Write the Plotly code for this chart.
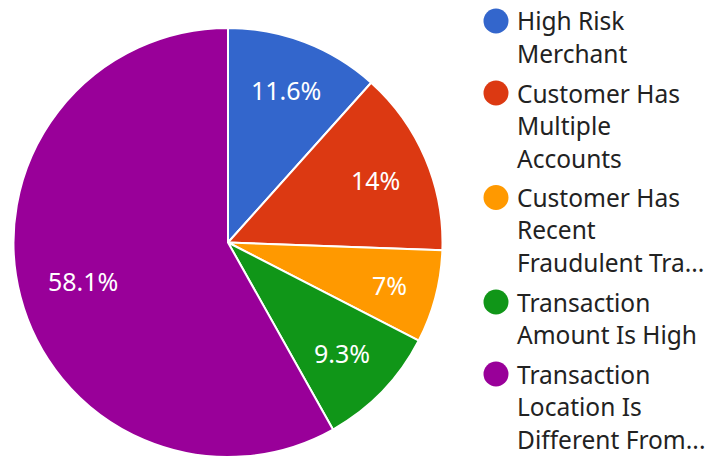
import math
import plotly.graph_objects as go

categories = [
    "High Risk Merchant",
    "Customer Has Multiple Accounts",
    "Customer Has Recent Fraudulent Transactions",
    "Transaction Amount Is High",
    "Transaction Location Is Different From Usual",
]
legend_lines = [
    ["High Risk", "Merchant"],
    ["Customer Has", "Multiple", "Accounts"],
    ["Customer Has", "Recent", "Fraudulent Tra..."],
    ["Transaction", "Amount Is High"],
    ["Transaction", "Location Is", "Different From..."],
]
values = [5, 6, 3, 4, 25]
colors = ["#3366CC", "#DC3912", "#FF9900", "#109618", "#990099"]

W, H = 707, 457
FONT = "Noto Sans"
FS_LABEL = 25
FS_LEGEND = 24.5

# pie geometry (paper pixels)
CX, TOP = 228, 28
R = (H - TOP) / 2
CY = TOP + R

fig = go.Figure()
fig.add_trace(go.Pie(
    labels=categories,
    values=values,
    sort=False,
    direction="clockwise",
    rotation=0,
    marker=dict(colors=colors, line=dict(color="white", width=2)),
    textinfo="none",
    domain=dict(x=[(CX - R) / W, (CX + R) / W], y=[0, 1 - TOP / H]),
    showlegend=False,
    hoverinfo="label+percent",
))

# slice percentage labels (Google-Charts-like placement)
glyph_w = {c: 0.572 for c in "0123456789"}
glyph_w.update({".": 0.268, "%": 0.846})
total = sum(values)
annotations = []
cum = 0.0
for v in values:
    frac = v / total
    mid = (cum + frac / 2) * 2 * math.pi
    cum += frac
    pct = round(frac * 100, 1)
    txt = (f"{pct:.1f}".rstrip("0").rstrip(".")) + "%"
    hw = sum(glyph_w.get(c, 0.6) for c in txt) * FS_LABEL / 2
    hh = FS_LABEL / 2
    s, c = math.sin(mid), -math.cos(mid)
    r = 0.875 * R - (hw * abs(s) + hh * abs(c))
    px, py = CX + r * s, CY + r * c
    annotations.append(dict(xref="paper", yref="paper", x=px / W, y=1 - py / H,
                            xanchor="center", yanchor="middle", text=txt,
                            showarrow=False,
                            font=dict(family=FONT, size=FS_LABEL, color="white")))

# legend drawn as circles + text lines
line_h = 32.5
gap = 7
y = 21
shapes = []
for lines, col in zip(legend_lines, colors):
    shapes.append(dict(type="circle", xref="paper", yref="paper",
                       x0=(496 - 12.5) / W, x1=(496 + 12.5) / W,
                       y0=1 - (y + 12.5) / H, y1=1 - (y - 12.5) / H,
                       fillcolor=col, line=dict(width=0)))
    for i, t in enumerate(lines):
        annotations.append(dict(xref="paper", yref="paper",
                                x=515 / W, y=1 - (y + i * line_h) / H,
                                xanchor="left", yanchor="middle",
                                text=t, showarrow=False,
                                font=dict(family=FONT, size=FS_LEGEND, color="#222222")))
    y += len(lines) * line_h + gap

fig.update_layout(
    width=W, height=H,
    margin=dict(l=0, r=0, t=0, b=0),
    paper_bgcolor="white",
    plot_bgcolor="white",
    shapes=shapes,
    annotations=annotations,
    font=dict(family=FONT),
)
fig.write_html(
    "out.html",
    config={"displayModeBar": False},
    post_script="document.body.style.margin='0';document.body.style.overflow='hidden';",
)
